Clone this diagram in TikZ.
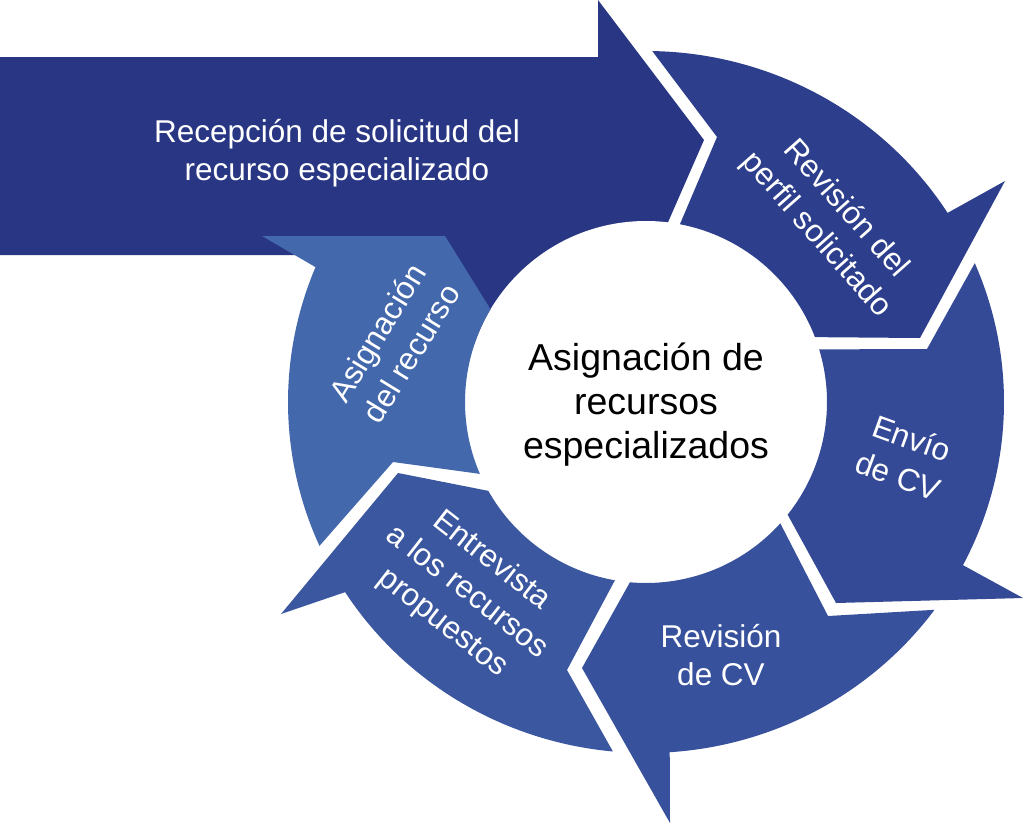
\documentclass[tikz,border=0pt]{standalone}
\usepackage{fontspec}
\setmainfont{Liberation Sans}
\definecolor{cBig}{HTML}{283684}
\definecolor{cRevP}{HTML}{2D3F8C}
\definecolor{cEnv}{HTML}{344A96}
\definecolor{cRevCV}{HTML}{38519C}
\definecolor{cEnt}{HTML}{3B57A0}
\definecolor{cAsig}{HTML}{4368AC}
\tikzset{
  lbl/.style={text=white, align=center, font=\fontsize{31.5}{38}\selectfont, inner sep=0pt},
  rlbl/.style={text=white, align=center, font=\fontsize{31.5}{39.5}\selectfont, inner sep=0pt},
  ctrtext/.style={text=black, align=center, font=\fontsize{37.5}{44}\selectfont, inner sep=0pt},
  hub/.style={circle, fill=white, draw=none, minimum size=362pt, inner sep=0pt},
}
\begin{document}
\begin{tikzpicture}[x=1pt,y=1pt]
\useasboundingbox (0,0) rectangle (1024,-825);
\coordinate (ctr) at (646,-402);
\coordinate (b1) at (1005,-181);
\coordinate (t1) at (920,-338);
\coordinate (n1) at (717,-137);
\coordinate (b2) at (1023,-598);
\coordinate (t2) at (836,-603);
\coordinate (n2) at (927,-349);
\coordinate (b3) at (670,-823);
\coordinate (t3) at (582,-668);
\coordinate (n3) at (828,-616);
\coordinate (b4) at (281,-614);
\coordinate (t4) at (398,-473);
\coordinate (n4) at (567,-670);
\coordinate (b5) at (262,-236);
\coordinate (t5) at (445,-236);
\coordinate (n5) at (393,-462);
% big arrow
\fill[cBig] (0,-57) -- (598,-57) -- (598,0) -- (704,-140) -- (634,-300) -- (560,-370)
  -- (460,-340) -- (440,-255) -- (0,-255) -- cycle;
\node[hub] (hub) at (ctr) {};
\begin{scope}[shift={(ctr)}]
\fill[cRevP] (89:358pt and 351pt) arc[start angle=89, end angle=32.6, x radius=358pt, y radius=351pt]
  -- (b1) -- (t1) -- (21:181pt) arc[start angle=21, end angle=79.2, radius=181pt] -- (n1) -- cycle;
\fill[cEnv] (23.3:358pt and 351pt) arc[start angle=23.3, end angle=-27.7, x radius=358pt, y radius=351pt]
  -- (b2) -- (t2) -- (-38.5:181pt) arc[start angle=-38.5, end angle=16.9, radius=181pt] -- (n2) -- cycle;
\fill[cRevCV] (-36.3:358pt and 351pt) arc[start angle=-36.3, end angle=-86.2, x radius=358pt, y radius=351pt]
  -- (b3) -- (t3) -- (-95.1:181pt) arc[start angle=-95.1, end angle=-42.1, radius=181pt] -- (n3) -- cycle;
\fill[cEnt] (-95.3:358pt and 351pt) arc[start angle=-95.3, end angle=-147.2, x radius=358pt, y radius=351pt]
  -- (b4) -- (t4) -- (-150.6:181pt) arc[start angle=-150.6, end angle=-99.9, radius=181pt] -- (n4) -- cycle;
\fill[cAsig] (204.2:358pt and 351pt) arc[start angle=204.2, end angle=157.4, x radius=358pt, y radius=351pt]
  -- (b5) -- (t5) -- (149.2:181pt) arc[start angle=149.2, end angle=203.4, radius=181pt] -- (n5) -- cycle;
\end{scope}
% texts
\node[lbl] (recep) at (337,-153) {Recepción de solicitud del\\recurso especializado};
\node[rlbl, rotate=-48.5] (revp) at (831,-222) {Revisión del\\perfil solicitado};
\node[rlbl, rotate=-20] (envio) at (905,-457) {Envío\\de CV};
\node[lbl] (revcv) at (721,-655) {Revisión\\de CV};
\node[rlbl, rotate=-38] (entre) at (467,-592) {Entrevista\\a los recursos\\propuestos};
\node[rlbl, rotate=58.5] (asig) at (394,-343) {Asignación\\del recurso};
\node[ctrtext] (ctrlbl) at (646,-405) {Asignación de\\recursos\\especializados};
\end{tikzpicture}
\end{document}
